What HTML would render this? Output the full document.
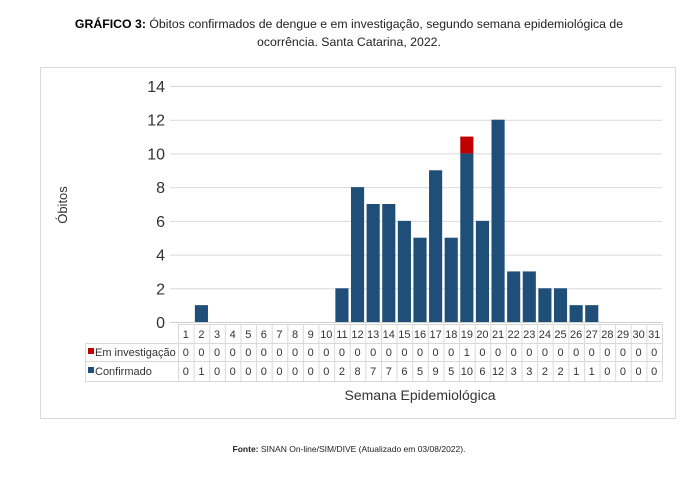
<!DOCTYPE html>
<html><head><meta charset="utf-8"><style>
body{margin:0;width:698px;height:472px;background:#fff;font-family:"Liberation Sans",sans-serif;overflow:hidden}
</style></head><body>
<svg id="svg" width="698" height="472" xmlns="http://www.w3.org/2000/svg">
<text x="349" y="28" text-anchor="middle" font-size="12.3" fill="#222"><tspan font-weight="bold" fill="#000">GRÁFICO 3:</tspan> Óbitos confirmados de dengue e em investigação, segundo semana epidemiológica de</text>
<text x="349" y="46" text-anchor="middle" font-size="12.3" fill="#222">ocorrência. Santa Catarina, 2022.</text>
<rect x="40.5" y="67.5" width="635" height="351" fill="#fff" stroke="#d9d9d9"/>
<g id="grid"></g><g id="bars"></g><g id="table"></g>
<text transform="translate(67,205) rotate(-90)" text-anchor="middle" font-size="13" fill="#333">Óbitos</text>
<text x="420" y="400" text-anchor="middle" font-size="14" fill="#333">Semana Epidemiológica</text>
<text x="349" y="452" text-anchor="middle" font-size="8.5" fill="#222"><tspan font-weight="bold">Fonte:</tspan> SINAN On-line/SIM/DIVE (Atualizado em 03/08/2022).</text>
</svg>
<script>
const weeks=[1,2,3,4,5,6,7,8,9,10,11,12,13,14,15,16,17,18,19,20,21,22,23,24,25,26,27,28,29,30,31];
const confirmado=[0,1,0,0,0,0,0,0,0,0,2,8,7,7,6,5,9,5,10,6,12,3,3,2,2,1,1,0,0,0,0];
const investigacao=[0,0,0,0,0,0,0,0,0,0,0,0,0,0,0,0,0,0,1,0,0,0,0,0,0,0,0,0,0,0,0];
const yTicks=[0,2,4,6,8,10,12,14];
const NS="http://www.w3.org/2000/svg";
const x0=178,x1=662,y0=322,y14=86,colW=(x1-x0)/weeks.length;
const y=v=>y0-(y0-y14)*v/14;
const x=i=>x0+i*colW;
function mk(tag,attrs,parent,txt){const e=document.createElementNS(NS,tag);for(const k in attrs)e.setAttribute(k,attrs[k]);if(txt!==undefined)e.textContent=txt;document.getElementById(parent).appendChild(e);return e;}
yTicks.forEach(t=>{
 const l=mk('line',{x1:170,x2:x1,y1:y(t)+.5,y2:y(t)+.5,stroke:t===0?'#d0d0d0':'#d9d9d9'},'grid');
 
 
 const tx=mk('text',{x:165,y:y(t)+6,'text-anchor':'end','font-size':16,fill:'#333'},'grid',t);
 
 
});
weeks.forEach((w,i)=>{
 const bw=colW*0.84,bx=x(i)+(colW-bw)/2;
 if(confirmado[i]>0){
  const r=mk('rect',{x:bx,y:y(confirmado[i]),width:bw,height:y(0)-y(confirmado[i]),fill:'#1f4e79'},'bars');
  
  
 }
 if(investigacao[i]>0){
  const top=confirmado[i]+investigacao[i];
  const r=mk('rect',{x:bx,y:y(top),width:bw,height:y(confirmado[i])-y(top),fill:'#c00000'},'bars');
  
  
 }
});
// table
const rows=[324,343,361,381];
const tb='table';
rows.forEach((ry,k)=>{const l=mk('line',{x1:k===0?x0:85,x2:x1,y1:ry+.5,y2:ry+.5,stroke:'#d9d9d9'},tb);});
for(let i=0;i<=weeks.length;i++){const l=mk('line',{x1:x(i)+.5,x2:x(i)+.5,y1:324,y2:381,stroke:'#d9d9d9'},tb);}
const l2=mk('line',{x1:85.5,x2:85.5,y1:343,y2:381,stroke:'#d9d9d9'},tb);
weeks.forEach((w,i)=>{
 const cx=x(i)+colW/2;
 const a=mk('text',{x:cx,y:338,'text-anchor':'middle','font-size':11,fill:'#333'},tb,w);
 
 
 const b=mk('text',{x:cx,y:356,'text-anchor':'middle','font-size':11,fill:'#333'},tb,investigacao[i]);
 
 
 const c=mk('text',{x:cx,y:375,'text-anchor':'middle','font-size':11,fill:'#333'},tb,confirmado[i]);
 
 
});
const k1=mk('rect',{x:88,y:348,width:6,height:6,fill:'#c00000'},tb);


const t1=mk('text',{x:95,y:356,'font-size':11,fill:'#333'},tb,'Em investigação');


const k2=mk('rect',{x:88,y:367,width:6,height:6,fill:'#1f4e79'},tb);


const t2=mk('text',{x:95,y:375,'font-size':11,fill:'#333'},tb,'Confirmado');


</script>
</body></html>
